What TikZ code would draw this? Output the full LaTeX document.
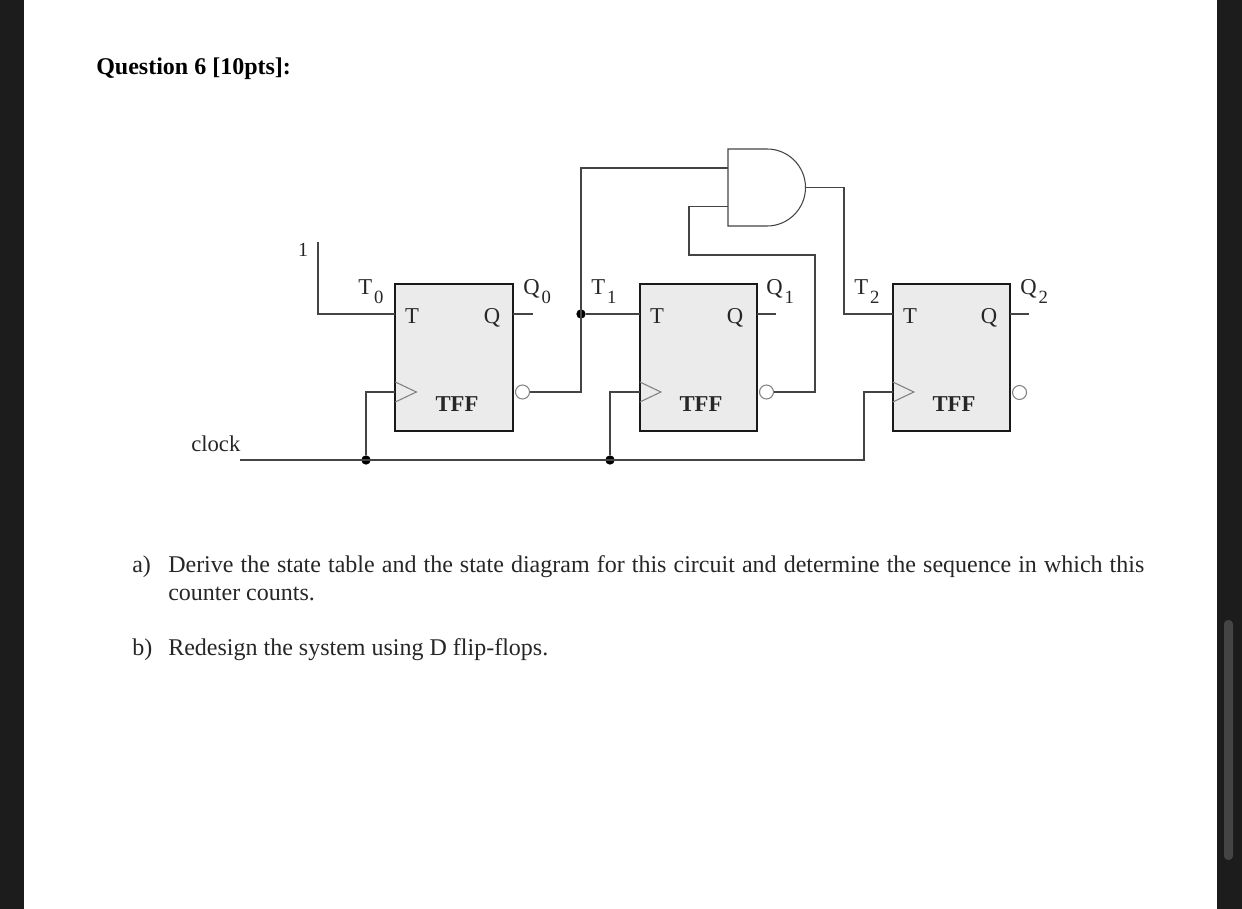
\documentclass[tikz,border=0pt]{standalone}
\usepackage{fontspec}
\setmainfont{Liberation Serif}
\usepackage{xcolor}
\definecolor{mybar}{HTML}{1C1C1C}
\definecolor{mythumb}{HTML}{444444}
\definecolor{myfill}{HTML}{EBEBEB}
\definecolor{mywire}{HTML}{444444}
\newcommand{\sublabel}[2]{#1\kern1.5pt\raisebox{-6.5pt}{\fontsize{14}{16}\selectfont #2}}
\tikzset{
  tff/.style={draw=black!90,line width=1.4pt,fill=myfill,rectangle,minimum width=88pt,minimum height=110pt,inner sep=0pt,outer sep=0pt},
  wire/.style={draw=mywire,line width=0.9pt},
  bubble/.style={circle,draw=gray,line width=0.8pt,fill=white,minimum size=10.5pt,inner sep=0pt,outer sep=0pt},
  junction/.style={circle,fill=black,minimum size=7pt,inner sep=0pt,outer sep=0pt},
  pin/.style={anchor=base,inner sep=0pt,font=\fontsize{17}{19}\selectfont,text=black!85},
  bodytext/.style={anchor=base west,inner sep=0pt,font=\fontsize{18}{21}\selectfont,text=black!85}
}
\begin{document}
\begin{tikzpicture}[x=0.75pt,y=-0.75pt]
  \useasboundingbox (0,0) rectangle (1242,909);
  % window
  \fill [mybar] (0,0) rectangle (24,909);
  \fill [mybar] (1217,0) rectangle (1242,909);
  \fill [mythumb,rounded corners=3pt] (1224,620) rectangle (1233,860);
  % texts
  \node [bodytext,font=\fontsize{18}{21}\selectfont\bfseries,text=black] (title) at (96,75) {Question 6 [10pts]:};
  \node [bodytext] (parta) at (132,572) {a)};
  \node [bodytext] (partatext) at (168,572) {\hbox to 732pt{Derive the state table and the state diagram for this circuit and determine the sequence in which this}};
  \node [bodytext] (partatwo) at (168,600) {counter counts.};
  \node [bodytext] (partb) at (132,655) {b)};
  \node [bodytext] (partbtext) at (168,655) {Redesign the system using D flip-flops.};
  % flip-flops
  \node [tff] (ff0) at (454,357.5) {};
  \node [tff] (ff1) at (698.5,357.5) {};
  \node [tff] (ff2) at (951.5,357.5) {};
  \foreach \name/\tx/\qx/\fx in {ff0/412/492/457,ff1/657/735/701,ff2/910/989/954}{
    \node [pin] (\name t) at (\tx,323) {T};
    \node [pin] (\name q) at (\qx,323) {Q};
    \node [pin,font=\fontsize{17}{19}\selectfont\bfseries] (\name label) at (\fx,411) {TFF};
    \draw [gray,line width=0.8pt] (\name.west |- 0,382) -- ++(21,10) -- ++(-21,10);
  }
  % pins
  \coordinate (t0) at (ff0.west |- 0,314);
  \coordinate (t1) at (ff1.west |- 0,314);
  \coordinate (t2) at (ff2.west |- 0,314);
  \coordinate (q0) at (ff0.east |- 0,314);
  \coordinate (q1) at (ff1.east |- 0,314);
  \coordinate (q2) at (ff2.east |- 0,314);
  \coordinate (c0) at (ff0.west |- 0,392);
  \coordinate (c1) at (ff1.west |- 0,392);
  \coordinate (c2) at (ff2.west |- 0,392);
  \coordinate (q0end) at (533,314);
  \coordinate (q1end) at (776,314);
  \coordinate (q2end) at (1029,314);
  \coordinate (one) at (318,242);
  \coordinate (clockin) at (240,460);
  \node [bubble] (nq0) at (522.5,392) {};
  \node [bubble] (nq1) at (766.5,392) {};
  \node [bubble] (nq2) at (1019.5,392.5) {};
  \node [junction] (j0) at (581,314) {};
  \node [junction] (j1) at (366,460) {};
  \node [junction] (j2) at (610,460) {};
  % and gate
  \draw [wire,fill=white,line width=0.8pt] (728,149) -- (767,149) arc (-90:90:38.5) -- (728,226) -- cycle;
  \coordinate (andtop) at (728,168);
  \coordinate (andbot) at (728,206.5);
  \coordinate (andout) at (805.5,187.5);
  % wires
  \draw [wire] (one) |- (t0);
  \draw [wire] (q0) -- (q0end);
  \draw [wire] (q1) -- (q1end);
  \draw [wire] (q2) -- (q2end);
  \draw [wire] (nq0.east) -| (j0.center) |- (andtop);
  \draw [wire] (j0) -- (t1);
  \draw [wire] (nq1.east) -- (815,392) -- (815,255) -- (689,255) -- (689,206.5) -- (andbot);
  \draw [wire] (andout) -- (844,187.5) -- (844,314) -- (t2);
  \draw [wire] (clockin) -- (864,460) -- (864,392) -- (c2);
  \draw [wire] (j1) |- (c0);
  \draw [wire] (j2) |- (c1);
  % labels
  \node [pin,font=\fontsize{15}{17}\selectfont] (onelabel) at (303,257) {1};
  \node [pin,anchor=base west] (clocklabel) at (191,451) {clock};
  \node [pin,anchor=base west] (t0label) at (358,295) {\sublabel{T}{0}};
  \node [pin,anchor=base west] (q0label) at (523,295) {\sublabel{Q}{0}};
  \node [pin,anchor=base west] (t1label) at (591,295) {\sublabel{T}{1}};
  \node [pin,anchor=base west] (q1label) at (766,295) {\sublabel{Q}{1}};
  \node [pin,anchor=base west] (t2label) at (854,295) {\sublabel{T}{2}};
  \node [pin,anchor=base west] (q2label) at (1020,295) {\sublabel{Q}{2}};
\end{tikzpicture}
\end{document}
